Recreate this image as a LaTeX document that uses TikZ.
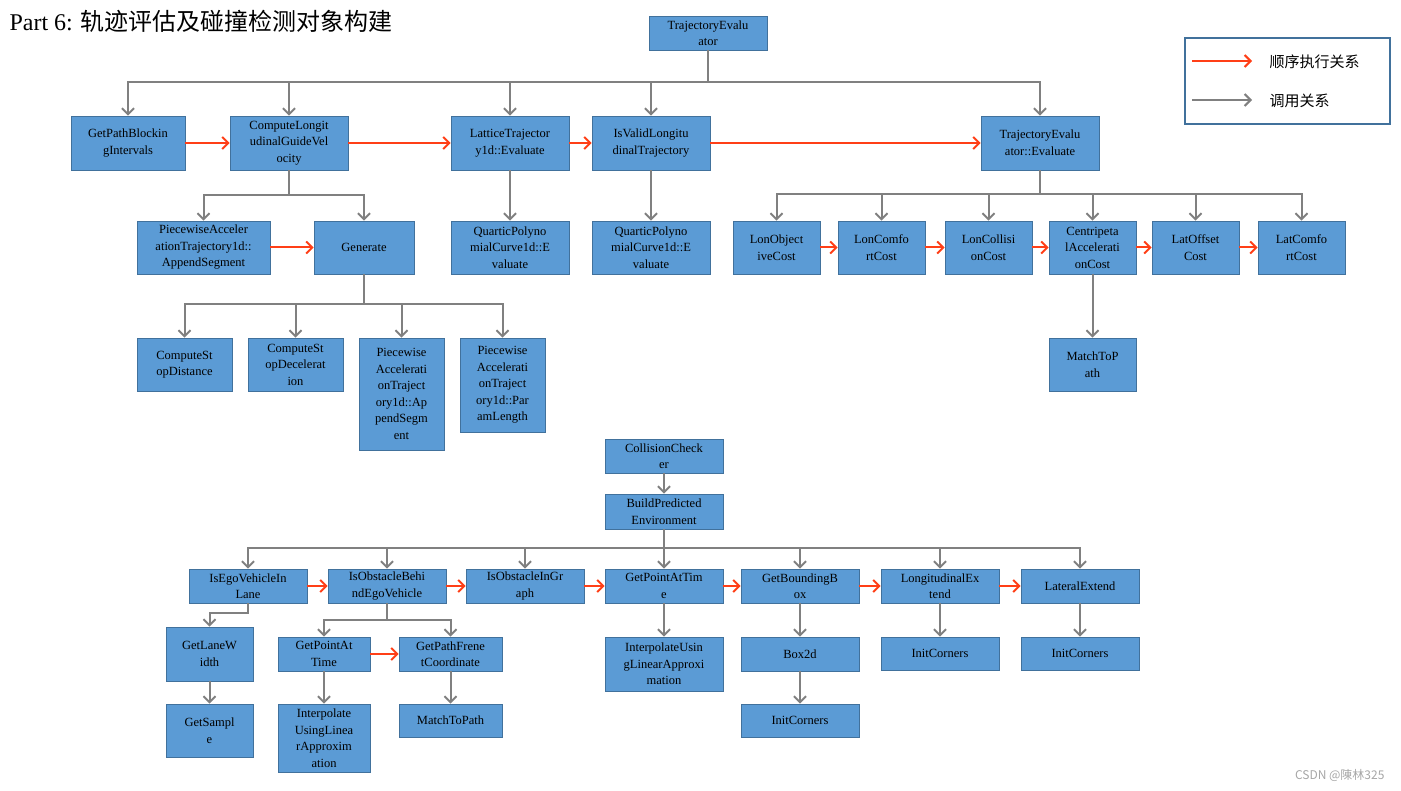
\documentclass[tikz,border=0pt]{standalone}
\usepackage{fontspec}
\setmainfont{Liberation Serif}
\newfontfamily\cjk{Noto Sans CJK SC}
\usetikzlibrary{arrows.meta}
\definecolor{bfill}{HTML}{5B9BD5}
\definecolor{bdraw}{HTML}{41719C}
\definecolor{rline}{HTML}{FF3F17}
\definecolor{gline}{HTML}{808080}
\tikzset{
  box/.style={fill=bfill,draw=bdraw,line width=0.8pt,inner sep=0pt,align=center,
    font=\fontsize{12.5}{16.5}\selectfont},
  rarr/.style={draw=rline,line width=2pt,-{Straight Barb[length=6pt,width=12pt,line width=2pt]}},
  garr/.style={draw=gline,line width=2pt,-{Straight Barb[length=6pt,width=12pt,line width=2pt]}},
}
\newcommand\bx[6]{\node[box,minimum width={(#4-#2)*1pt},minimum height={(#5-#3)*1pt}] (#1) at ({(#2+#4)/2},{(#3+#5)/2}) {#6};}
\begin{document}
\begin{tikzpicture}[x=1pt,y=-1pt]
\useasboundingbox (0,0) rectangle (1401,791);
\node[anchor=west,font=\fontsize{24}{28}\selectfont] (title) at (6,21) {Part 6: {\cjk 轨迹评估及碰撞检测对象构建}};
% top tree
\bx{TE}{649}{16}{767}{50}{TrajectoryEvalu\\ator}
\bx{GPB}{71}{116}{185}{170}{GetPathBlockin\\gIntervals}
\bx{CLG}{230}{116}{348}{170}{ComputeLongit\\udinalGuideVel\\ocity}
\bx{LTE}{451}{116}{569}{170}{LatticeTrajector\\y1d::Evaluate}
\bx{IVL}{592}{116}{710}{170}{IsValidLongitu\\dinalTrajectory}
\bx{TEE}{981}{116}{1099}{170}{TrajectoryEvalu\\ator::Evaluate}
\coordinate (b1) at (0,82);
\foreach \c in {GPB,CLG,LTE,IVL,TEE}{\draw[garr] (TE.south) -- (TE.south |- b1) -| (\c.north);}
\draw[rarr] (GPB.east) -- (CLG.west);
\draw[rarr] (CLG.east) -- (LTE.west);
\draw[rarr] (LTE.east) -- (IVL.west);
\draw[rarr] (IVL.east) -- (TEE.west);
% CLG subtree
\bx{PAT}{137}{221}{270}{274}{PiecewiseAcceler\\ationTrajectory1d::\\AppendSegment}
\bx{GEN}{314}{221}{414}{274}{Generate}
\coordinate (b2) at (0,195);
\foreach \c in {PAT,GEN}{\draw[garr] (CLG.south) -- (CLG.south |- b2) -| (\c.north);}
\draw[rarr] (PAT.east) -- (GEN.west);
\bx{CSD}{137}{338}{232}{391}{ComputeSt\\opDistance}
\bx{CSDe}{248}{338}{343}{391}{ComputeSt\\opDecelerat\\ion}
\bx{PAS}{359}{338}{444}{450}{Piecewise\\Accelerati\\onTraject\\ory1d::Ap\\pendSegm\\ent}
\bx{PPL}{460}{338}{545}{432}{Piecewise\\Accelerati\\onTraject\\ory1d::Par\\amLength}
\coordinate (b3) at (0,304);
\foreach \c in {CSD,CSDe,PAS,PPL}{\draw[garr] (GEN.south) -- (GEN.south |- b3) -| (\c.north);}
\bx{QP1}{451}{221}{569}{274}{QuarticPolyno\\mialCurve1d::E\\valuate}
\bx{QP2}{592}{221}{710}{274}{QuarticPolyno\\mialCurve1d::E\\valuate}
\draw[garr] (LTE.south) -- (QP1.north);
\draw[garr] (IVL.south) -- (QP2.north);
% costs
\bx{C1}{733}{221}{820}{274}{LonObject\\iveCost}
\bx{C2}{838}{221}{925}{274}{LonComfo\\rtCost}
\bx{C3}{945}{221}{1032}{274}{LonCollisi\\onCost}
\bx{C4}{1049}{221}{1136}{274}{Centripeta\\lAccelerati\\onCost}
\bx{C5}{1152}{221}{1239}{274}{LatOffset\\Cost}
\bx{C6}{1258}{221}{1345}{274}{LatComfo\\rtCost}
\coordinate (b4) at (0,194);
\foreach \c in {C1,C2,C3,C4,C5,C6}{\draw[garr] (TEE.south) -- (TEE.south |- b4) -| (\c.north);}
\draw[rarr] (C1.east) -- (C2.west);
\draw[rarr] (C2.east) -- (C3.west);
\draw[rarr] (C3.east) -- (C4.west);
\draw[rarr] (C4.east) -- (C5.west);
\draw[rarr] (C5.east) -- (C6.west);
\bx{MTP1}{1049}{338}{1136}{391}{MatchToP\\ath}
\draw[garr] (C4.south) -- (MTP1.north);
% legend
\node[draw=bdraw,line width=1.5pt,minimum width=205pt,minimum height=86pt,inner sep=0pt] (leg) at (1287.5,81) {};
\coordinate (l1a) at (1192,61); \coordinate (l1b) at (1252,61);
\coordinate (l2a) at (1192,100); \coordinate (l2b) at (1252,100);
\draw[rarr] (l1a) -- (l1b);
\draw[garr] (l2a) -- (l2b);
\node[anchor=west,font=\cjk\fontsize{15}{18}\selectfont] (lt1) at (1266,62) {顺序执行关系};
\node[anchor=west,font=\cjk\fontsize{15}{18}\selectfont] (lt2) at (1266,101) {调用关系};
% collision tree
\bx{CC}{605}{439}{723}{473}{CollisionCheck\\er}
\bx{BPE}{605}{494}{723}{529}{BuildPredicted\\Environment}
\draw[garr] (CC.south) -- (BPE.north);
\bx{D1}{189}{569}{307}{603}{IsEgoVehicleIn\\Lane}
\bx{D2}{328}{569}{446}{603}{IsObstacleBehi\\ndEgoVehicle}
\bx{D3}{466}{569}{584}{603}{IsObstacleInGr\\aph}
\bx{D4}{605}{569}{723}{603}{GetPointAtTim\\e}
\bx{D5}{741}{569}{859}{603}{GetBoundingB\\ox}
\bx{D6}{881}{569}{999}{603}{LongitudinalEx\\tend}
\bx{D7}{1021}{569}{1139}{603}{LateralExtend}
\coordinate (b5) at (0,548);
\foreach \c in {D1,D2,D3,D4,D5,D6,D7}{\draw[garr] (BPE.south) -- (BPE.south |- b5) -| (\c.north);}
\draw[rarr] (D1.east) -- (D2.west);
\draw[rarr] (D2.east) -- (D3.west);
\draw[rarr] (D3.east) -- (D4.west);
\draw[rarr] (D4.east) -- (D5.west);
\draw[rarr] (D5.east) -- (D6.west);
\draw[rarr] (D6.east) -- (D7.west);
\bx{GLW}{166}{627}{253}{681}{GetLaneW\\idth}
\bx{GS}{166}{704}{253}{757}{GetSampl\\e}
\coordinate (b6) at (0,613);
\draw[garr] (D1.south) -- (D1.south |- b6) -| (GLW.north);
\draw[garr] (GLW.south) -- (GS.north);
\bx{GPT}{278}{637}{370}{671}{GetPointAt\\Time}
\bx{GPF}{399}{637}{502}{671}{GetPathFrene\\tCoordinate}
\coordinate (b7) at (0,620);
\foreach \c in {GPT,GPF}{\draw[garr] (D2.south) -- (D2.south |- b7) -| (\c.north);}
\draw[rarr] (GPT.east) -- (GPF.west);
\bx{IUL}{278}{704}{370}{772}{Interpolate\\UsingLinea\\rApproxim\\ation}
\bx{MTP2}{399}{704}{502}{737}{MatchToPath}
\draw[garr] (GPT.south) -- (IUL.north);
\draw[garr] (GPF.south) -- (MTP2.north);
\bx{IUL2}{605}{637}{723}{691}{InterpolateUsin\\gLinearApproxi\\mation}
\draw[garr] (D4.south) -- (IUL2.north);
\bx{B2D}{741}{637}{859}{671}{Box2d}
\bx{IC1}{741}{704}{859}{737}{InitCorners}
\draw[garr] (D5.south) -- (B2D.north);
\draw[garr] (B2D.south) -- (IC1.north);
\bx{IC2}{881}{637}{999}{670}{InitCorners}
\bx{IC3}{1021}{637}{1139}{670}{InitCorners}
\draw[garr] (D6.south) -- (IC2.north);
\draw[garr] (D7.south) -- (IC3.north);
\node[anchor=east,text=gray!70,font=\cjk\fontsize{12}{14}\selectfont] (wm) at (1388,775) {CSDN @陳林325};
\end{tikzpicture}
\end{document}
